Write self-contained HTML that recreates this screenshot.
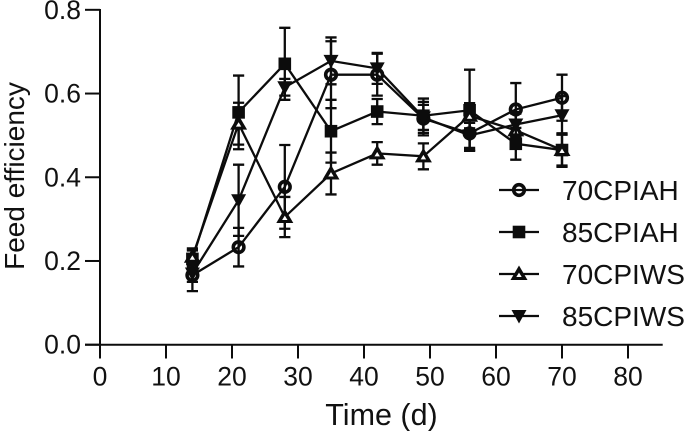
<!DOCTYPE html>
<html lang="en">
<head>
<meta charset="utf-8">
<title>Feed efficiency chart</title>
<style>
html,body{margin:0;padding:0;background:#fff;width:685px;height:431px;overflow:hidden}
svg{display:block}
text{font-family:"Liberation Sans",sans-serif;fill:#111}
</style>
</head>
<body>
<svg id="chart" xmlns="http://www.w3.org/2000/svg" width="685" height="431" viewBox="0 0 685 431">
<text transform="translate(24,176) rotate(-90)" text-anchor="middle" font-size="28">Feed efficiency</text>
<text x="381.5" y="425" text-anchor="middle" font-size="30.5">Time (d)</text>
</svg>
<script>
const days = [14, 21, 28, 35, 42, 49, 56, 63, 70];
const xTicks = [0, 10, 20, 30, 40, 50, 60, 70, 80];
const yTicks = ['0.0', '0.2', '0.4', '0.6', '0.8'];
const seriesNames = ['70CPIAH', '85CPIAH', '70CPIWS', '85CPIWS'];
const values70CPIAH = [0.166, 0.233, 0.377, 0.645, 0.645, 0.54, 0.505, 0.562, 0.59];
const errors70CPIAH = [0.038, 0.046, 0.1, 0.08, 0.05, 0.04, 0.04, 0.063, 0.055];
const values85CPIAH = [0.205, 0.555, 0.671, 0.51, 0.557, 0.547, 0.56, 0.48, 0.465];
const errors85CPIAH = [0.02, 0.088, 0.086, 0.075, 0.03, 0.041, 0.097, 0.038, 0.037];
const values70CPIWS = [0.21, 0.528, 0.305, 0.409, 0.457, 0.45, 0.547, 0.512, 0.465];
const errors70CPIWS = [0.02, 0.05, 0.048, 0.05, 0.027, 0.031, 0.03, 0.04, 0.04];
const values85CPIWS = [0.17, 0.345, 0.615, 0.678, 0.66, 0.543, 0.5, 0.526, 0.548];
const errors85CPIWS = [0.02, 0.085, 0.02, 0.056, 0.037, 0.03, 0.03, 0.03, 0.046];

const NS = 'http://www.w3.org/2000/svg';
const svg = document.getElementById('chart');
const INK = '#0c0c0c';
const xScale = d => 100 + d * 6.6;
const yScale = v => 344.7 - v * 418.6;

function make(tag, attrs, parent) {
  const el = document.createElementNS(NS, tag);
  for (const k in attrs) el.setAttribute(k, attrs[k]);
  (parent || svg).appendChild(el);
  return el;
}
function drawMarker(kind, x, y, parent) {
  if (kind === 0) {
    return make('circle', {cx: x, cy: y, r: 5.3, fill: 'none', stroke: INK, 'stroke-width': 3.6}, parent);
  }
  if (kind === 1) {
    return make('rect', {x: x - 6.3, y: y - 6.3, width: 12.6, height: 12.6, fill: INK}, parent);
  }
  if (kind === 2) {
    const g = make('g', {}, parent);
    make('polygon', {points: `${x},${y - 8.5} ${x + 8.5},${y + 6} ${x - 8.5},${y + 6}`, fill: INK}, g);
    make('polygon', {points: `${x},${y - 1.4} ${x + 2.7},${y + 3} ${x - 2.7},${y + 3}`, fill: '#fff'}, g);
    return g;
  }
  return make('polygon', {points: `${x - 7.5},${y - 6} ${x + 7.5},${y - 6} ${x},${y + 7.5}`, fill: INK}, parent);
}

const seriesValues = [values70CPIAH, values85CPIAH, values70CPIWS, values85CPIWS];
const seriesErrors = [errors70CPIAH, errors85CPIAH, errors70CPIWS, errors85CPIWS];

seriesValues.forEach((vals, s) => {
  const g = make('g', {});
  
  
  const errs = seriesErrors[s];
  vals.forEach((v, i) => {
    const x = xScale(days[i]);
    const top = yScale(v + errs[i]);
    const bot = yScale(v - errs[i]);
    const bar = make('path', {
      d: `M${x} ${top}V${bot}M${x - 5.6} ${top}H${x + 5.6}M${x - 5.6} ${bot}H${x + 5.6}`,
      fill: 'none', stroke: INK, 'stroke-width': 2.3
    }, g);
    
    
  });
  const line = make('polyline', {
    points: vals.map((v, i) => xScale(days[i]) + ',' + yScale(v)).join(' '),
    fill: 'none', stroke: INK, 'stroke-width': 2.3
  }, g);
  
  
  vals.forEach((v, i) => {
    const m = drawMarker(s, xScale(days[i]), yScale(v), g);
    
    
  });
});

const xAxis = make('g', {});


make('line', {x1: 85, x2: 662.7, y1: yScale(0), y2: yScale(0), stroke: INK, 'stroke-width': 2}, xAxis);
xTicks.forEach(t => {
  const x = xScale(t);
  make('line', {x1: x, x2: x, y1: yScale(0), y2: 358.5, stroke: INK, 'stroke-width': 2}, xAxis);
  const label = make('text', {x: x, y: 385.5, 'text-anchor': 'middle', 'font-size': 26.5}, xAxis);
  label.textContent = t;
  
  
});

const yAxis = make('g', {});


make('line', {x1: 100, x2: 100, y1: 9, y2: 358.5, stroke: INK, 'stroke-width': 2}, yAxis);
yTicks.forEach(t => {
  const y = yScale(Number(t));
  make('line', {x1: 85, x2: 100, y1: y, y2: y, stroke: INK, 'stroke-width': 2}, yAxis);
  const label = make('text', {x: 81, y: y + 9, 'text-anchor': 'end', 'font-size': 26.5}, yAxis);
  label.textContent = t;
  
  
});

const legend = make('g', {});


seriesNames.forEach((name, i) => {
  const y = 190 + i * 42;
  const entry = make('g', {}, legend);
  
  
  make('line', {x1: 499, x2: 539, y1: y, y2: y, stroke: INK, 'stroke-width': 2.3}, entry);
  drawMarker(i, 519, y, entry);
  const label = make('text', {x: 562, y: y + 10, 'font-size': 28}, entry);
  label.textContent = name;
});
</script>
</body>
</html>
